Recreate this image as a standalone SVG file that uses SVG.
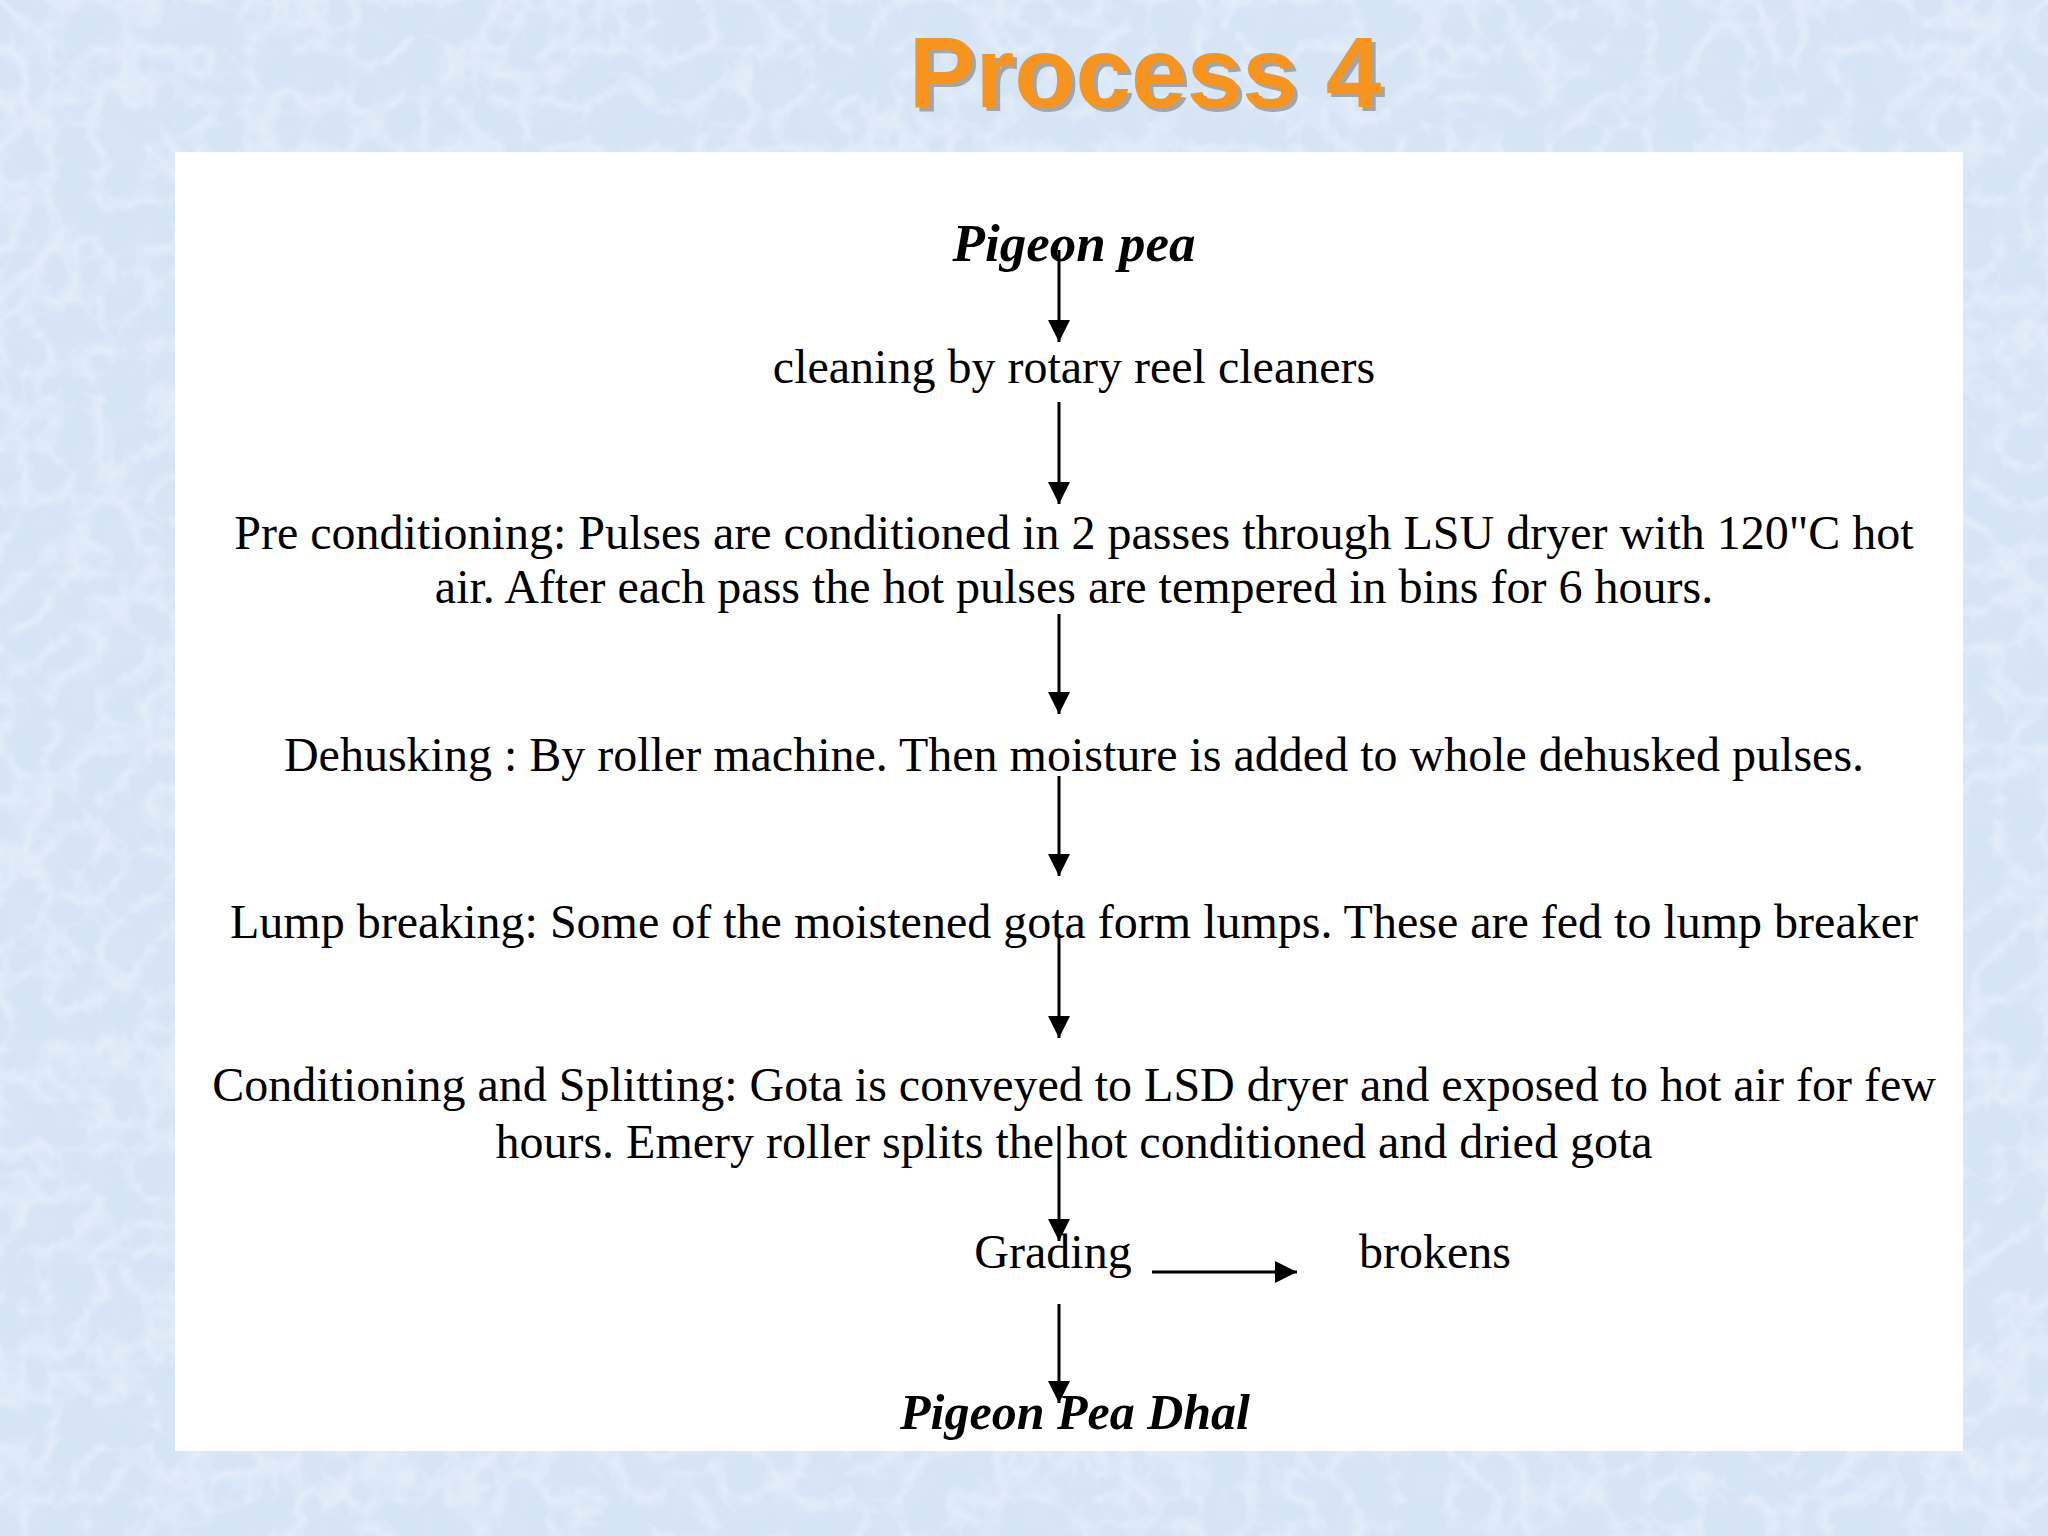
<svg xmlns="http://www.w3.org/2000/svg" width="2048" height="1536" viewBox="0 0 2048 1536">
<defs>
<style>
.t{font-family:"Liberation Serif","Times New Roman",serif;font-size:48px;fill:#000;text-anchor:middle}
.b{font-weight:bold;font-style:italic;font-size:53px}
.d{font-size:50px}
.title{font-family:"Liberation Sans",Arial,sans-serif;font-weight:bold;font-size:100px;text-anchor:middle}
.ln{stroke:#000;stroke-width:3;fill:none}
</style>
<marker id="ah" viewBox="0 0 22 22" refX="22" refY="11" markerWidth="22" markerHeight="22" markerUnits="userSpaceOnUse" orient="auto">
<path d="M0,0 L22,11 L0,22 Z" fill="#000"/>
</marker>
<filter id="texw" x="0" y="0" width="100%" height="100%">
<feTurbulence type="turbulence" baseFrequency="0.02" numOctaves="3" seed="7"/>
<feColorMatrix type="matrix" values="0 0 0 0 1  0 0 0 0 1  0 0 0 0 1  0 0 0 -2.2 0.75"/>
</filter>
<filter id="texb" x="0" y="0" width="100%" height="100%">
<feTurbulence type="fractalNoise" baseFrequency="0.03" numOctaves="2" seed="3"/>
<feColorMatrix type="matrix" values="0 0 0 0 0.70  0 0 0 0 0.80  0 0 0 0 0.95  0 0 0 1.6 -0.75"/>
</filter>
</defs>
<rect x="0" y="0" width="2048" height="1536" fill="#d6e5f6"/>
<rect x="0" y="0" width="2048" height="1536" filter="url(#texb)" opacity="0.5"/>
<rect x="0" y="0" width="2048" height="1536" filter="url(#texw)" opacity="0.45"/>
<g id="title">
<text class="title" x="1149" y="111" fill="#8a8a8a" opacity="0.7">Process 4</text>
<text class="title" x="1145" y="107" fill="#f7941d">Process 4</text>
</g>
<rect id="panel" x="175" y="152" width="1788" height="1299" fill="#ffffff"/>
<g id="connectors">
<line class="ln" x1="1059" y1="250" x2="1059" y2="342" marker-end="url(#ah)"/>
<line class="ln" x1="1059" y1="402" x2="1059" y2="504" marker-end="url(#ah)"/>
<line class="ln" x1="1059" y1="614" x2="1059" y2="714" marker-end="url(#ah)"/>
<line class="ln" x1="1059" y1="776" x2="1059" y2="876" marker-end="url(#ah)"/>
<line class="ln" x1="1059" y1="934" x2="1059" y2="1038" marker-end="url(#ah)"/>
<line class="ln" x1="1059" y1="1126" x2="1059" y2="1241" marker-end="url(#ah)"/>
<line class="ln" x1="1059" y1="1304" x2="1059" y2="1403" marker-end="url(#ah)"/>
<line class="ln" x1="1152" y1="1272" x2="1297" y2="1272" stroke-width="4" marker-end="url(#ah)"/>
</g>
<g id="node-pigeon-pea"><text class="t b" x="1074" y="261">Pigeon pea</text></g>
<g id="node-cleaning"><text class="t" x="1074" y="383">cleaning by rotary reel cleaners</text></g>
<g id="node-preconditioning">
<text class="t" x="1074" y="549">Pre conditioning: Pulses are conditioned in 2 passes through LSU dryer with 120"C hot</text>
<text class="t" x="1074" y="603">air. After each pass the hot pulses are tempered in bins for 6 hours.</text>
</g>
<g id="node-dehusking"><text class="t" x="1074" y="771">Dehusking : By roller machine. Then moisture is added to whole dehusked pulses.</text></g>
<g id="node-lump"><text class="t" x="1074" y="938">Lump breaking: Some of the moistened gota form lumps. These are fed to lump breaker</text></g>
<g id="node-splitting">
<text class="t" x="1074" y="1101">Conditioning and Splitting: Gota is conveyed to LSD dryer and exposed to hot air for few</text>
<text class="t" x="1074" y="1158">hours. Emery roller splits the hot conditioned and dried gota</text>
</g>
<g id="node-grading"><text class="t" x="1053" y="1268">Grading</text></g>
<g id="node-brokens"><text class="t" x="1435" y="1268">brokens</text></g>
<g id="node-dhal"><text class="t b d" x="1075" y="1429">Pigeon Pea Dhal</text></g>
</svg>
